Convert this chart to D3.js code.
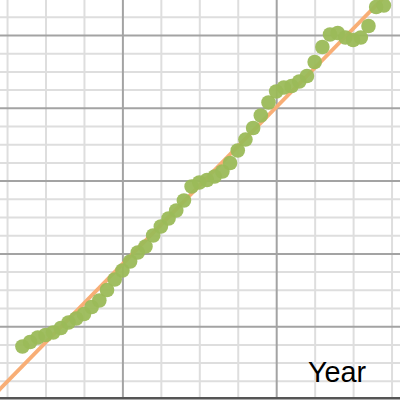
<!DOCTYPE html>
<html>
<head>
<meta charset="utf-8">
<script src="https://cdn.jsdelivr.net/npm/d3@7/dist/d3.min.js"></script>
<style>
html,body{margin:0;padding:0;background:#ffffff;overflow:hidden}
svg{display:block}
</style>
</head>
<body>
<svg id="chart" width="400" height="400"></svg>
<script>
// ---- data ----
const years = [1967,1968,1969,1970,1971,1972,1973,1974,1975,1976,1977,1978,1979,1980,1981,1982,
  1983,1984,1985,1986,1987,1988,1989,1990,1991,1992,1993,1994,1995,1996,1997,1998,
  1999,2000,2001,2002,2003,2004,2005,2006,2007,2008,2009,2010,2011,2012,2013,2014];
const values = [0.721,0.783,0.845,0.879,0.913,0.975,1.051,1.106,1.168,1.264,1.353,1.497,1.641,1.765,1.889,2.012,
  2.095,2.246,2.370,2.479,2.589,2.727,2.919,2.974,3.008,3.056,3.125,3.242,3.413,3.564,3.723,3.894,
  4.073,4.224,4.279,4.299,4.361,4.437,4.629,4.835,5.007,5.027,4.966,4.931,4.966,5.124,5.385,5.405];
const xMinorTicks = [1955,1965,1970,1975,1985,1990,1995,2005,2010,2015,2025];
const xMajorTicks = [1960,1980,2000,2020];
const yMinorTicks = [0.25,0.5,0.75,1.25,1.5,1.75,2.25,2.5,2.75,3.25,3.5,3.75,4.25,4.5,4.75,5.25,5.5];
const yMajorTicks = [1,2,3,4,5];
const xTitle = "Year";

// ---- scales ----
const svg = d3.select("#chart");
const xLo = 1955, xHi = 2025, yLo = 0, yHi = 5.6;
const x0 = d3.scaleLinear().domain([1980, 2000]).range([122.4, 276.2]);
const x = d3.scaleLinear().domain([xLo, xHi]).range([x0(xLo), x0(xHi)]);
const y = d3.scaleLinear().domain([0, 5]).range([399, 35]);

// ---- grid (via axes) ----
function vGrid(ticks, color) {
  const g = svg.append("g").attr("transform", `translate(0,${y(yLo)})`)
    .call(d3.axisBottom(x).tickValues(ticks).tickSize(-(y(yLo) - y(yHi))).tickFormat(""));
  g.select(".domain").remove();
  g.selectAll(".tick line").attr("stroke", color).attr("stroke-width", 2);
}
function hGrid(ticks, color) {
  const g = svg.append("g").attr("transform", `translate(${x(xLo)},0)`)
    .call(d3.axisLeft(y).tickValues(ticks).tickSize(-(x(xHi) - x(xLo))).tickFormat(""));
  g.select(".domain").remove();
  g.selectAll(".tick line").attr("stroke", color).attr("stroke-width", 2);
}
vGrid(xMinorTicks, "#dedede");
hGrid(yMinorTicks, "#dedede");
vGrid(xMajorTicks, "#a3a3a3");
hGrid(yMajorTicks, "#a3a3a3");

// ---- bottom axis line ----
const ax = svg.append("g").attr("transform", `translate(0,${y(0) - 1.2})`)
  .call(d3.axisBottom(x).tickValues([]).tickSizeOuter(0));
ax.select(".domain").attr("stroke", "#555555").attr("stroke-width", 2.6);

// ---- linear trendline (least squares) ----
const mx = d3.mean(years), my = d3.mean(values);
const slope = d3.sum(years, (d, i) => (d - mx) * (values[i] - my)) / d3.sum(years, d => (d - mx) * (d - mx));
const icpt = my - slope * mx;
const trend = [xLo, xHi].map(t => [t, icpt + slope * t]);
svg.append("path")
  .datum(trend)
  .attr("fill", "none")
  .attr("stroke", "#f8ae76")
  .attr("stroke-width", 3.8)
  .attr("d", d3.line().x(d => x(d[0])).y(d => y(d[1])));

// ---- points ----
svg.append("g").selectAll("circle")
  .data(values)
  .join("circle")
  .attr("cx", (d, i) => x(years[i]))
  .attr("cy", d => y(d))
  .attr("r", 7.3)
  .attr("fill", "#9bbb59")
  .attr("fill-opacity", 0.95);

// ---- axis title ----
svg.append("text")
  .attr("x", 308)
  .attr("y", 382)
  .attr("font-family", "'Liberation Sans', Arial, sans-serif")
  .attr("font-size", 28.8)
  .attr("fill", "#000")
  .text(xTitle);
</script>
</body>
</html>
